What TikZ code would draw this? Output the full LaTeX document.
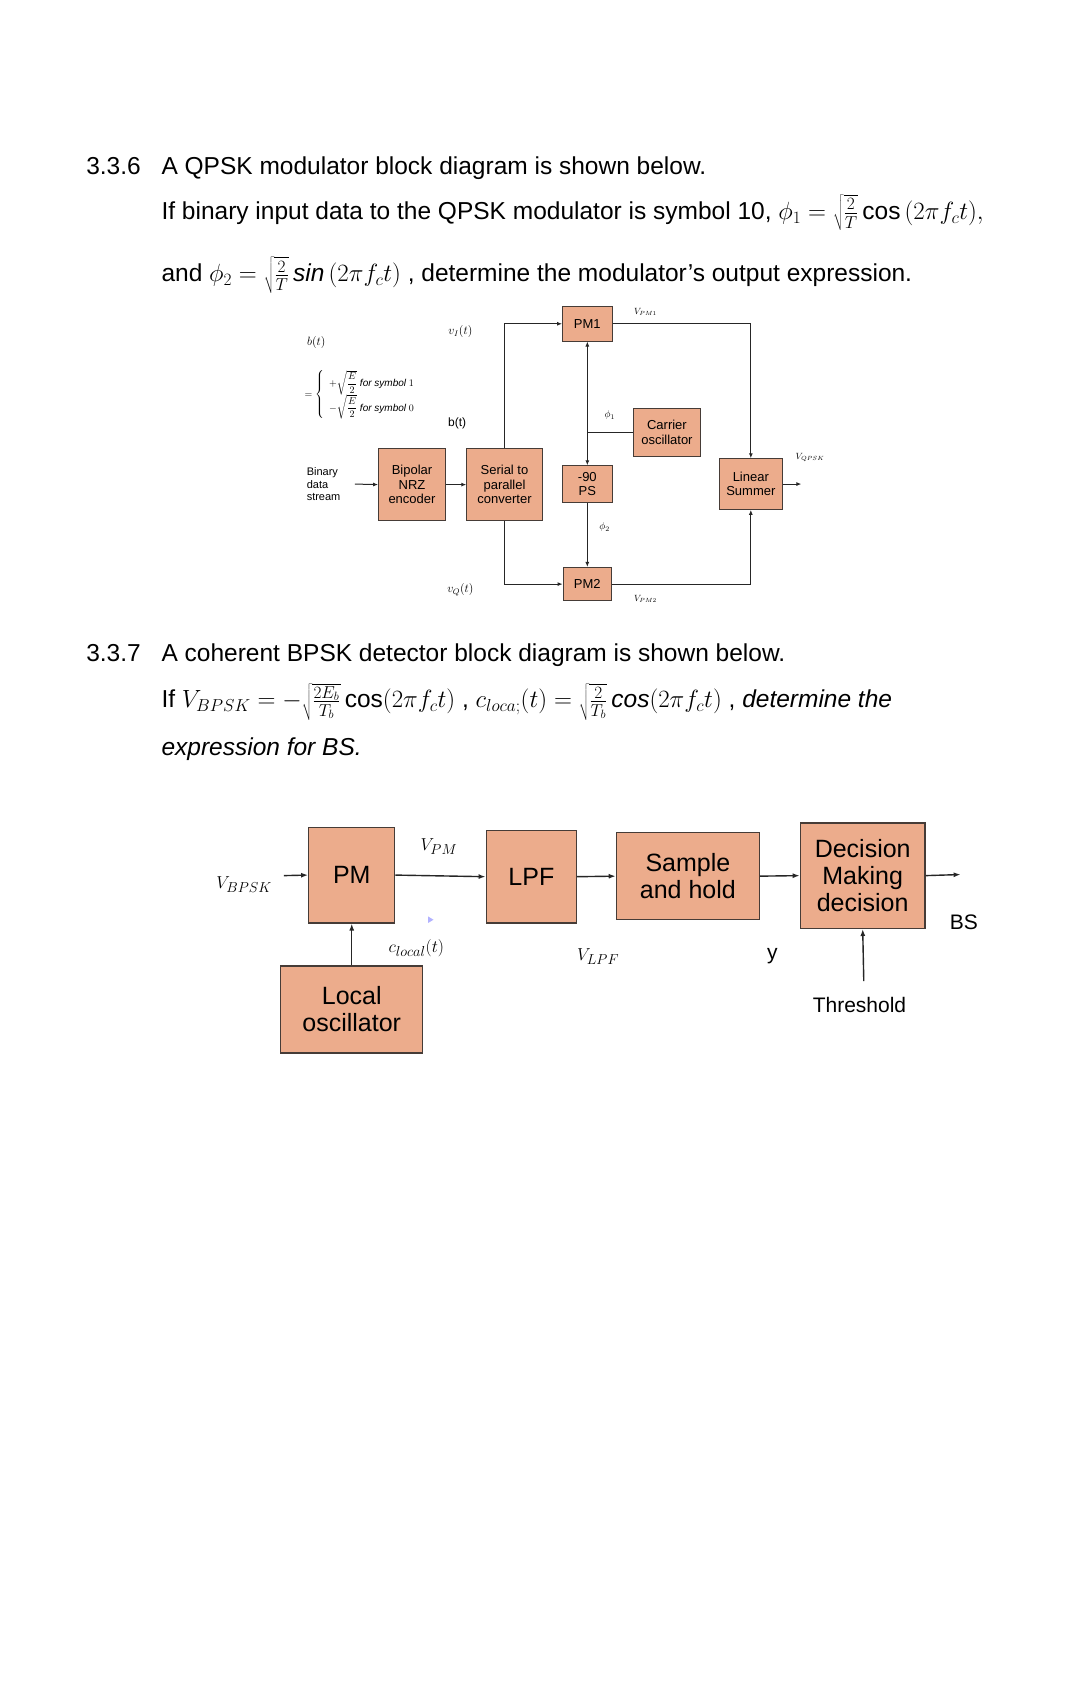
\documentclass[tikz,border=0pt]{standalone}
\usepackage{fontspec}
\setmainfont{Liberation Sans}
\usetikzlibrary{arrows.meta}
\newcommand\uu{1.0757pt}
\definecolor{boxfill}{RGB}{236,172,140}
\definecolor{boxdraw}{RGB}{70,60,55}
\begin{document}
\begin{tikzpicture}[x=1.0757pt,y=-1.0757pt,
  blk/.style={draw=boxdraw,fill=boxfill,line width=1pt,inner sep=0pt,align=center},
  sblk/.style={blk,font=\fontsize{13}{14.5}\selectfont},
  lblk/.style={blk,line width=1.3pt,font=\fontsize{25}{27}\selectfont},
  txt/.style={inner sep=0pt,anchor=base west,font=\fontsize{24.5}{27}\selectfont},
  lbl/.style={inner sep=0pt,font=\fontsize{12}{13}\selectfont},
  arr/.style={-{Latex[length=5pt,width=4pt]},line width=1pt,draw=black!85},
  larr/.style={-{Latex[length=7pt,width=5pt]},line width=1.4pt,draw=black!85},
  ln/.style={line width=1pt,draw=black!85}]
\useasboundingbox (0,0) rectangle (1004,1568.3);
\fill[white] (0,0) rectangle (1004,1568.3);
% ---------- texts
\node[txt] (t1n) at (80,162) {3.3.6};
\node[txt] (t1) at (150,162) {A QPSK modulator block diagram is shown below.};
\node[txt] (t2) at (150,204) {If binary input data to the QPSK modulator is symbol 10, $\phi_1=\sqrt{\frac{2}{T}}\cos\,(2\pi f_ct),$};
\node[txt] (t3) at (150,262) {and $\phi_2=\sqrt{\frac{2}{T}}\,\mathit{sin}\,(2\pi f_ct)$ , determine the modulator’s output expression.};
\node[txt] (t4n) at (80,615) {3.3.7};
\node[txt] (t4) at (150,615) {A coherent BPSK detector block diagram is shown below.};
\node[txt] (t5) at (150,658) {If $V_{BPSK}=-\sqrt{\frac{2E_b}{T_b}}\cos(2\pi f_ct)$ , $c_{loca;}(t)=\sqrt{\frac{2}{T_b}}\,\mathit{cos}(2\pi f_ct)$ , \textit{determine the}};
\node[txt] (t6) at (150,702) {\textit{expression for BS.}};
% ---------- QPSK diagram
\node[lbl] (bt) at (294,318) {$b(t)$};
\node[lbl,anchor=west,font=\fontsize{10}{11}\selectfont] (beq) at (283,367) {$=\left\{\begin{array}{l}+\sqrt{\displaystyle\frac{E}{2}}\ \mathit{for\ symbol}\ 1\\[4pt] -\sqrt{\displaystyle\frac{E}{2}}\ \mathit{for\ symbol}\ 0\end{array}\right.$};
\node[lbl] (vi) at (428,308) {$v_I(t)$};
\node[lbl] (bt2) at (425,394) {b(t)};
\node[lbl] (vq) at (428,548) {$v_Q(t)$};
\node[lbl,align=left,anchor=west,font=\fontsize{11}{12.5}\selectfont] (bds) at (285,450) {Binary\\data\\stream};
\node[sblk,minimum width=62*\uu,minimum height=67*\uu] (nrz) at (383,450.5) {Bipolar\\NRZ\\encoder};
\node[sblk,minimum width=70*\uu,minimum height=67*\uu] (sp) at (469,450.5) {Serial to\\parallel\\converter};
\node[sblk,minimum width=46*\uu,minimum height=32*\uu] (pm1) at (546,301) {PM1};
\node[sblk,minimum width=62*\uu,minimum height=45*\uu] (co) at (620,402) {Carrier\\oscillator};
\node[sblk,minimum width=46*\uu,minimum height=34*\uu] (ps) at (546,450) {-90\\PS};
\node[sblk,minimum width=59*\uu,minimum height=47*\uu] (sum) at (698,450) {Linear\\Summer};
\node[sblk,minimum width=45*\uu,minimum height=31*\uu] (pm2) at (546,543) {PM2};
\node[lbl,font=\fontsize{9}{10}\selectfont] (vpm1) at (600,290) {$V_{PM1}$};
\node[lbl,font=\fontsize{9}{10}\selectfont] (vpm2) at (600,557) {$V_{PM2}$};
\node[lbl,font=\fontsize{9}{10}\selectfont] (vqpsk) at (753,425) {$V_{QPSK}$};
\node[lbl,font=\fontsize{10}{11}\selectfont] (ph1) at (567,386) {$\phi_1$};
\node[lbl,font=\fontsize{10}{11}\selectfont] (ph2) at (562,490) {$\phi_2$};
\coordinate (bin) at (330,450);
\coordinate (jn) at (546,402);
\coordinate (qout) at (745,450);
\draw[arr] (bin) -- (nrz.west);
\draw[arr] (nrz.east) -- (sp.west);
\draw[arr] (sp.north) |- (pm1.west);
\draw[arr] (sp.south) |- (pm2.west);
\draw[ln] (co.west) -- (jn);
\draw[arr] (jn) -- (pm1.south);
\draw[arr] (jn) -- (ps.north);
\draw[arr] (ps.south) -- (pm2.north);
\draw[arr] (pm1.east) -| (sum.north);
\draw[arr] (pm2.east) -| (sum.south);
\draw[arr] (sum.east) -- (qout);
% ---------- BPSK detector
\node[lblk,minimum width=80*\uu,minimum height=89*\uu] (pm) at (327,813.5) {PM};
\node[lblk,minimum width=84*\uu,minimum height=86*\uu] (lpf) at (494,815) {LPF};
\node[lblk,minimum width=133*\uu,minimum height=81*\uu] (sh) at (639.5,814.5) {Sample\\and hold};
\node[lblk,minimum width=116*\uu,minimum height=98*\uu] (dec) at (802,814) {Decision\\Making\\decision};
\node[lblk,minimum width=132*\uu,minimum height=81*\uu] (lo) at (327,938.5) {Local\\oscillator};
\node[inner sep=0pt,font=\fontsize{19}{20}\selectfont] (vb) at (227,822) {$V_{BPSK}$};
\node[inner sep=0pt,font=\fontsize{19}{20}\selectfont] (vpm) at (408,787) {$V_{PM}$};
\node[inner sep=0pt,font=\fontsize{19}{20}\selectfont] (cl) at (387,881) {$c_{local}(t)$};
\node[inner sep=0pt,font=\fontsize{19}{20}\selectfont] (vlpf) at (556,889) {$V_{LPF}$};
\node[inner sep=0pt,font=\fontsize{21}{22}\selectfont] (yl) at (718,889) {y};
\node[inner sep=0pt,font=\fontsize{21}{22}\selectfont] (bs) at (896,857) {BS};
\node[inner sep=0pt,font=\fontsize{21}{22}\selectfont] (thr) at (799,934) {Threshold};
\coordinate (vbin) at (264,814);
\coordinate (bsout) at (893,813);
\coordinate (thin) at (803,912);
\draw[larr] (vbin) -- (pm.west);
\draw[larr] (pm.east) -- (lpf.west);
\draw[larr] (lpf.east) -- (sh.west);
\draw[larr] (sh.east) -- (dec.west);
\draw[larr] (dec.east) -- (bsout);
\draw[larr] (lo.north) -- (pm.south);
\draw[larr] (thin) -- (dec.south);
\fill[blue!30] (398,852) -- (403,855) -- (398,858) -- cycle;
\end{tikzpicture}
\end{document}
